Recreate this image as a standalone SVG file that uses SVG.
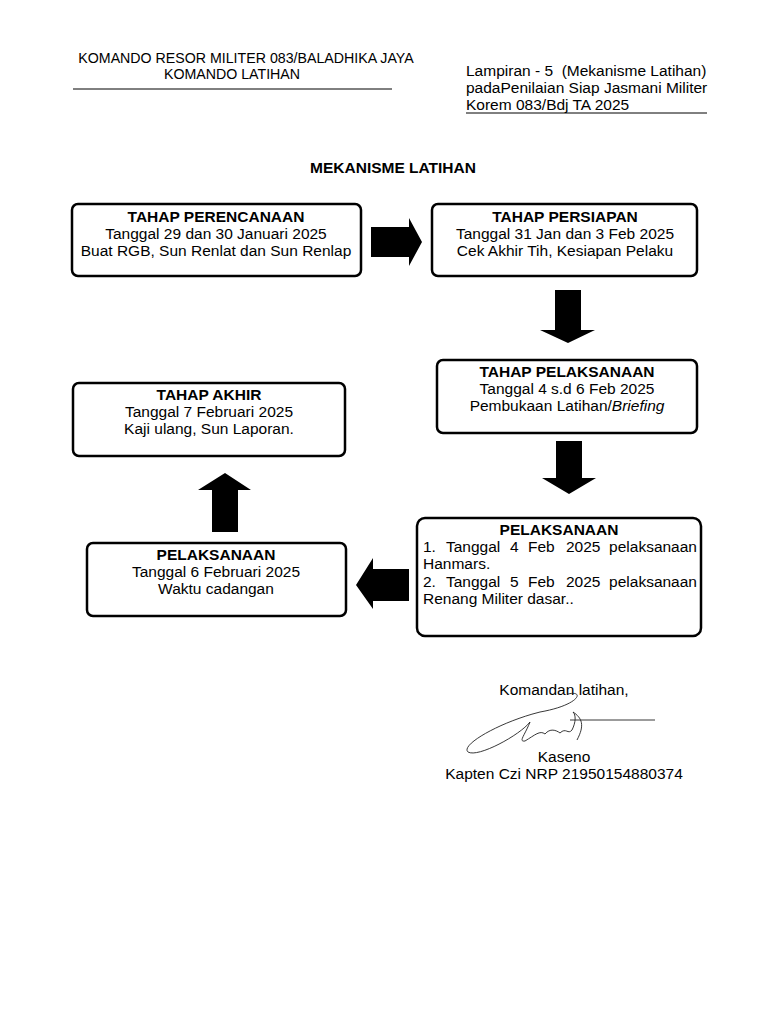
<svg xmlns="http://www.w3.org/2000/svg" width="768" height="1024" viewBox="0 0 768 1024">
<style>
text{font-family:"Liberation Sans",Arial,sans-serif;fill:#000;font-size:15.5px}
.c{text-anchor:middle}
.b{font-weight:bold}
.box{fill:#fff;stroke:#000;stroke-width:2.5}
.arr{fill:#000}
.h{font-size:14.2px}
.r{font-size:15.5px}
</style>
<rect width="768" height="1024" fill="#fff"/>
<g id="header">
<text class="c h" x="246" y="63">KOMANDO RESOR MILITER 083/BALADHIKA JAYA</text>
<text class="c h" x="232" y="79">KOMANDO LATIHAN</text>
<line x1="73" y1="89" x2="392" y2="89" stroke="#000" stroke-width="1"/>
<text class="r" x="466" y="76" xml:space="preserve">Lampiran - 5  (Mekanisme Latihan)</text>
<text class="r" x="466" y="93">padaPenilaian Siap Jasmani Militer</text>
<text class="r" x="466" y="110">Korem 083/Bdj TA 2025</text>
<line x1="466" y1="113" x2="707" y2="113" stroke="#000" stroke-width="1"/>
<text class="c b" x="393" y="173">MEKANISME LATIHAN</text>
</g>
<g id="connectors">
<path class="arr" d="M371,227 H409 V218 L422,242 L409,266 V257 H371 Z"/>
<path class="arr" d="M555,290 H581 V330 H595 L568,343 L540,330 H555 Z"/>
<path class="arr" d="M556,441 H582 V478 H596 L569,494 L542,478 H556 Z"/>
<path class="arr" d="M409,569 V601 H373 V609 L356,585 L373,558 V569 Z"/>
<path class="arr" d="M212,532 V490 H198 L225,473 L251,490 H238 V532 Z"/>
</g>
<g id="perencanaan">
<rect class="box" x="72" y="204" width="289" height="72" rx="6"/>
<text class="c b" x="216" y="222">TAHAP PERENCANAAN</text>
<text class="c" x="216" y="239">Tanggal 29 dan 30 Januari 2025</text>
<text class="c" x="216" y="256">Buat RGB, Sun Renlat dan Sun Renlap</text>
</g>
<g id="persiapan">
<rect class="box" x="432" y="204" width="265" height="72" rx="6"/>
<text class="c b" x="565" y="222">TAHAP PERSIAPAN</text>
<text class="c" x="565" y="239">Tanggal 31 Jan dan 3 Feb 2025</text>
<text class="c" x="565" y="256">Cek Akhir Tih, Kesiapan Pelaku</text>
</g>
<g id="pelaksanaan-tahap">
<rect class="box" x="437" y="360" width="260" height="73" rx="6"/>
<text class="c b" x="567" y="377">TAHAP PELAKSANAAN</text>
<text class="c" x="567" y="394">Tanggal 4 s.d 6 Feb 2025</text>
<text class="c" x="567" y="411">Pembukaan Latihan/<tspan font-style="italic">Briefing</tspan></text>
</g>
<g id="pelaksanaan-kanan">
<rect class="box" x="417" y="518" width="284" height="118" rx="8"/>
<text class="c b" x="559" y="535">PELAKSANAAN</text>
<text y="552"><tspan x="423">1.</tspan><tspan x="446">Tanggal</tspan><tspan x="510">4</tspan><tspan x="528">Feb</tspan><tspan x="566">2025</tspan><tspan x="697" text-anchor="end">pelaksanaan</tspan></text>
<text x="423" y="569">Hanmars.</text>
<text y="587"><tspan x="423">2.</tspan><tspan x="446">Tanggal</tspan><tspan x="510">5</tspan><tspan x="528">Feb</tspan><tspan x="566">2025</tspan><tspan x="697" text-anchor="end">pelaksanaan</tspan></text>
<text x="423" y="604">Renang Militer dasar..</text>
</g>
<g id="pelaksanaan-kiri">
<rect class="box" x="87" y="543" width="259" height="73" rx="6"/>
<text class="c b" x="216" y="560">PELAKSANAAN</text>
<text class="c" x="216" y="577">Tanggal 6 Februari 2025</text>
<text class="c" x="216" y="594">Waktu cadangan</text>
</g>
<g id="akhir">
<rect class="box" x="73" y="383" width="272" height="73" rx="6"/>
<text class="c b" x="209" y="400">TAHAP AKHIR</text>
<text class="c" x="209" y="417">Tanggal 7 Februari 2025</text>
<text class="c" x="209" y="434">Kaji ulang, Sun Laporan.</text>
</g>
<g id="signature">
<text class="c" x="564" y="695">Komandan latihan,</text>
<path d="M568,694 C585,690 580,705 540,712 C500,722 460,745 468,752 C478,758 520,735 530,722 C525,735 518,742 525,741 C535,735 540,730 545,734 C550,728 556,730 560,733 C566,727 568,735 572,730 C576,722 576,715 573,712 C582,718 585,725 577,740 M570,720 H655" fill="none" stroke="#222" stroke-width="0.9"/>
<text class="c" x="564" y="762">Kaseno</text>
<text class="c" x="564" y="779">Kapten Czi NRP 21950154880374</text>
</g>
</svg>
